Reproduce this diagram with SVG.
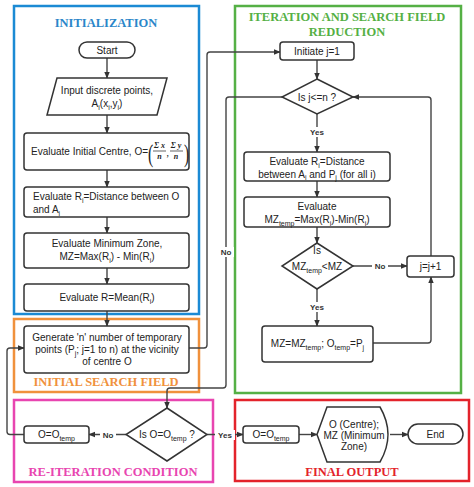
<svg xmlns="http://www.w3.org/2000/svg" width="474" height="487" viewBox="0 0 474 487">
<defs>
<marker id="arr" viewBox="0 0 10 10" refX="9" refY="5" markerWidth="7" markerHeight="7" markerUnits="userSpaceOnUse" orient="auto">
<path d="M0,1 L10,5 L0,9 Z" fill="#333"/>
</marker>
<style>
.reg{fill:none;stroke-width:2.5}
.box{fill:#fff;stroke:#333;stroke-width:1.5}
.t{font-family:"Liberation Sans",Arial,sans-serif;font-size:10px;fill:#222;text-anchor:middle}
.ts{font-family:"Liberation Sans",Arial,sans-serif;font-size:10px;fill:#222;text-anchor:start}
.lbl{font-family:"Liberation Sans",Arial,sans-serif;font-size:8px;font-weight:bold;fill:#333;text-anchor:middle}
.ttl{font-family:"Liberation Serif","Times New Roman",serif;font-size:12.5px;font-weight:bold;text-anchor:middle}
.c{fill:none;stroke:#444;stroke-width:1.4}
.ca{fill:none;stroke:#444;stroke-width:1.4;marker-end:url(#arr)}
.f{font-family:"Liberation Serif","Times New Roman",serif;font-size:8px;font-weight:bold;font-style:italic;fill:#222;text-anchor:middle}
.lb{fill:#fff}
</style>
</defs>
<g id="regions">
<rect class="reg" x="14" y="6" width="185" height="308" stroke="#1b8ad4"/>
<text class="ttl" x="106" y="27" fill="#2a86c9">INITIALIZATION</text>
<rect class="reg" x="14" y="319" width="185" height="73" stroke="#f0913c"/>
<text class="ttl" x="106" y="386" fill="#f0913c">INITIAL SEARCH FIELD</text>
<rect class="reg" x="235" y="6" width="226" height="387" stroke="#55b045"/>
<text class="ttl" x="347" y="21" fill="#55b045">ITERATION AND SEARCH FIELD</text>
<text class="ttl" x="347" y="36" fill="#55b045">REDUCTION</text>
<rect class="reg" x="14" y="400" width="199" height="82" stroke="#e845b0"/>
<text class="ttl" x="113" y="476" fill="#e845b0">RE-ITERATION CONDITION</text>
<rect class="reg" x="235" y="400" width="234" height="81" stroke="#e3232b"/>
<text class="ttl" x="352" y="476" fill="#e3232b">FINAL OUTPUT</text>
</g>
<g id="connectors">
<path class="ca" d="M107,58 V78"/>
<path class="ca" d="M107,115 V133"/>
<path class="ca" d="M107,170 V187"/>
<path class="ca" d="M107,217 V233"/>
<path class="ca" d="M107,268 V284"/>
<path class="ca" d="M107,311 V326"/>
<path class="ca" d="M189,348 H204 Q207,348 207,345 V55 Q207,52 210,52 H280"/>
<path class="ca" d="M282,97 H229 Q226,97 226,100 V385 Q226,388 223,388 H170 Q167,388 167,391 V408"/>
<rect class="lb" x="218" y="247" width="16" height="10"/>
<text class="lbl" x="226" y="255">No</text>
<path class="ca" d="M317,60 V79"/>
<path class="ca" d="M317,114 V152"/>
<rect class="lb" x="307" y="127" width="20" height="10"/>
<text class="lbl" x="317" y="135">Yes</text>
<path class="ca" d="M317,181 V197"/>
<path class="ca" d="M317,227 V243"/>
<path class="ca" d="M353,266 H407"/>
<rect class="lb" x="372" y="261" width="16" height="10"/>
<text class="lbl" x="380" y="269">No</text>
<path class="ca" d="M431,256 V100 Q431,97 428,97 H353"/>
<path class="ca" d="M317,289 V326"/>
<rect class="lb" x="307" y="302" width="20" height="10"/>
<text class="lbl" x="317" y="310">Yes</text>
<path class="ca" d="M373,343 H428 Q431,343 431,340 V277"/>
<path class="ca" d="M207,434.5 H243"/>
<rect class="lb" x="215" y="430" width="20" height="10"/>
<text class="lbl" x="225" y="437.5">Yes</text>
<path class="ca" d="M126,434.5 H89"/>
<rect class="lb" x="100" y="430" width="16" height="10"/>
<text class="lbl" x="108" y="437.5">No</text>
<path class="ca" d="M24,434.5 H10 Q7,434.5 7,431.5 V351 Q7,348 10,348 H24"/>
<path class="ca" d="M299,434.5 H317"/>
<path class="ca" d="M390,434.5 H408"/>
</g>
<g id="start">
<rect class="box" x="79" y="42" width="56" height="16" rx="8"/>
<text class="t" x="107" y="53.5">Start</text>
</g>
<g id="input">
<polygon class="box" points="57,78 167,78 157,115 47,115"/>
<text class="t" x="107" y="94">Input discrete points,</text>
<text class="t" x="107" y="107">A<tspan font-size="7" dy="2.5">i</tspan><tspan dy="-2.5">(x</tspan><tspan font-size="7" dy="2.5">i</tspan><tspan dy="-2.5">,y</tspan><tspan font-size="7" dy="2.5">i</tspan><tspan dy="-2.5">)</tspan></text>
</g>
<g id="centre">
<rect class="box" x="24" y="133" width="165" height="37" rx="3"/>
<text class="ts" x="31" y="155">Evaluate Initial Centre, O=</text>
<text x="148" y="162" font-family="Liberation Serif,serif" font-size="26" fill="#222" transform="translate(148 162) scale(0.6 1) translate(-148 -162)">(</text>
<text class="f" x="159.5" y="148">Σ x</text>
<line x1="153" y1="151" x2="166" y2="151" stroke="#222" stroke-width="0.7"/>
<text class="f" x="159.5" y="159">n</text>
<text class="f" x="168" y="156">,</text>
<text class="f" x="176" y="148">Σ y</text>
<line x1="170" y1="151" x2="183" y2="151" stroke="#222" stroke-width="0.7"/>
<text class="f" x="176" y="159">n</text>
<text x="184" y="162" font-family="Liberation Serif,serif" font-size="26" fill="#222" transform="translate(184 162) scale(0.6 1) translate(-184 -162)">)</text>
</g>
<g id="dist">
<rect class="box" x="24" y="187" width="165" height="30" rx="3"/>
<text class="ts" x="33" y="200">Evaluate R<tspan font-size="7" dy="2.5">i</tspan><tspan dy="-2.5">=Distance between O</tspan></text>
<text class="ts" x="33" y="213">and A<tspan font-size="7" dy="2.5">i</tspan></text>
</g>
<g id="minzone">
<rect class="box" x="24" y="233" width="165" height="35" rx="3"/>
<text class="t" x="107" y="247">Evaluate Minimum Zone,</text>
<text class="t" x="107" y="260">MZ=Max(R<tspan font-size="7" dy="2.5">i</tspan><tspan dy="-2.5">) - Min(R</tspan><tspan font-size="7" dy="2.5">i</tspan><tspan dy="-2.5">)</tspan></text>
</g>
<g id="mean">
<rect class="box" x="24" y="284" width="165" height="27" rx="3"/>
<text class="t" x="107" y="301">Evaluate R=Mean(R<tspan font-size="7" dy="2.5">i</tspan><tspan dy="-2.5">)</tspan></text>
</g>
<g id="generate">
<rect class="box" x="24" y="326" width="165" height="47" rx="3"/>
<text class="t" x="107" y="341">Generate 'n' number of temporary</text>
<text class="t" x="107" y="353">points (P<tspan font-size="7" dy="2.5">j</tspan><tspan dy="-2.5">; j=1 to n) at the vicinity</tspan></text>
<text class="t" x="107" y="365">of centre O</text>
</g>
<g id="initiate">
<rect class="box" x="280" y="42" width="74" height="18" rx="3"/>
<text class="t" x="317" y="55">Initiate j=1</text>
</g>
<g id="isj">
<polygon class="box" points="317,79 353,97 317,114 282,97"/>
<text class="t" x="317" y="100.5">Is j&lt;=n ?</text>
</g>
<g id="dist2">
<rect class="box" x="244" y="152" width="146" height="29" rx="3"/>
<text class="t" x="317" y="165">Evaluate R<tspan font-size="7" dy="2.5">i</tspan><tspan dy="-2.5">=Distance</tspan></text>
<text class="t" x="317" y="177.5">between A<tspan font-size="7" dy="2.5">i</tspan><tspan dy="-2.5"> and P</tspan><tspan font-size="7" dy="2.5">j</tspan><tspan dy="-2.5"> (for all i)</tspan></text>
</g>
<g id="mztemp">
<rect class="box" x="244" y="197" width="146" height="30" rx="3"/>
<text class="t" x="317" y="210">Evaluate</text>
<text class="t" x="317" y="223">MZ<tspan font-size="7" dy="2.5">temp</tspan><tspan dy="-2.5">=Max(R</tspan><tspan font-size="7" dy="2.5">i</tspan><tspan dy="-2.5">)-Min(R</tspan><tspan font-size="7" dy="2.5">i</tspan><tspan dy="-2.5">)</tspan></text>
</g>
<g id="ismz">
<polygon class="box" points="317,243 353,266 317,289 282,266"/>
<text class="t" x="317" y="254">Is</text>
<text class="t" x="317" y="270">MZ<tspan font-size="7" dy="2.5">temp</tspan><tspan dy="-2.5">&lt;MZ</tspan></text>
</g>
<g id="jinc">
<rect class="box" x="407" y="256" width="47" height="21" rx="3"/>
<text class="t" x="430.5" y="270">j=j+1</text>
</g>
<g id="mzset">
<rect class="box" x="262" y="326" width="111" height="36" rx="3"/>
<text class="t" x="317.5" y="347">MZ=MZ<tspan font-size="7" dy="2.5">temp</tspan><tspan dy="-2.5">; O</tspan><tspan font-size="7" dy="2.5">temp</tspan><tspan dy="-2.5">=P</tspan><tspan font-size="7" dy="2.5">j</tspan></text>
</g>
<g id="isO">
<polygon class="box" points="167,408 207,434.5 167,461 126,434.5"/>
<text class="t" x="167" y="438">Is O=O<tspan font-size="7" dy="2.5">temp</tspan><tspan dy="-2.5"> ?</tspan></text>
</g>
<g id="oleft">
<rect class="box" x="24" y="426" width="65" height="17" rx="3"/>
<text class="t" x="56.5" y="438">O=O<tspan font-size="7" dy="2.5">temp</tspan></text>
</g>
<g id="oright">
<rect class="box" x="243" y="426" width="56" height="17" rx="3"/>
<text class="t" x="271" y="438">O=O<tspan font-size="7" dy="2.5">temp</tspan></text>
</g>
<g id="output">
<path class="box" d="M327,407 H380 Q396,434.5 380,462 H327 L317,434.5 Z"/>
<text class="t" x="354" y="427.5">O (Centre);</text>
<text class="t" x="354" y="438.5">MZ (Minimum</text>
<text class="t" x="354" y="450">Zone)</text>
</g>
<g id="end">
<rect class="box" x="408" y="424" width="55" height="20" rx="10"/>
<text class="t" x="435.5" y="437.5">End</text>
</g>
</svg>
